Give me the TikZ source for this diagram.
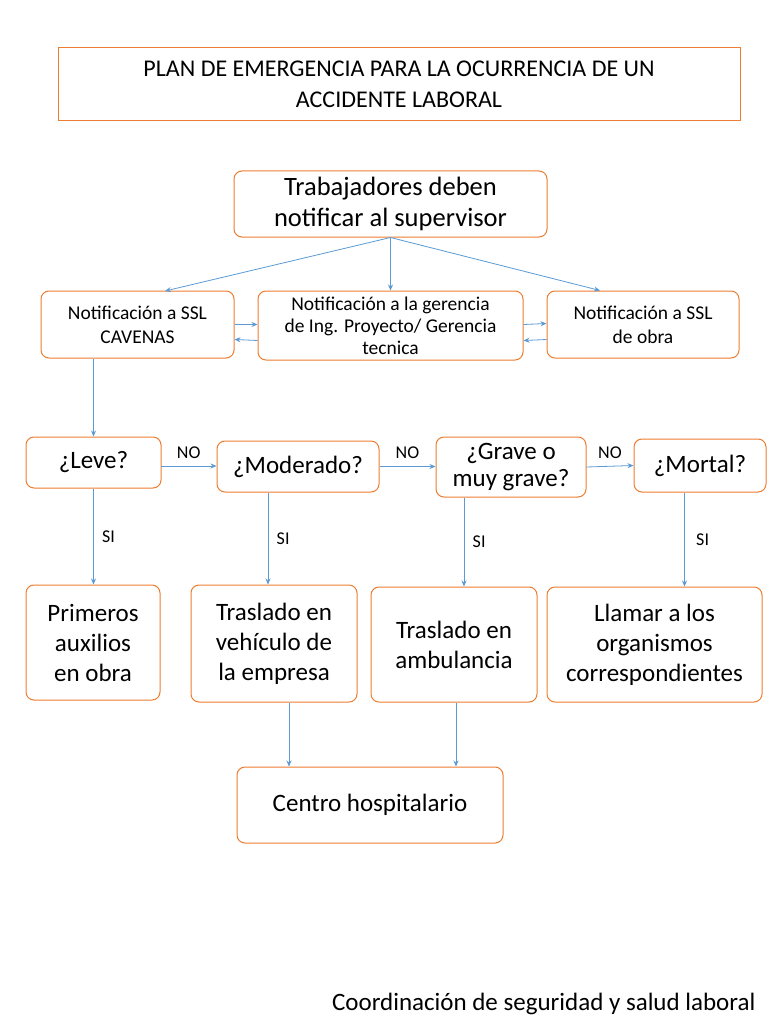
\documentclass[tikz,border=0pt]{standalone}
\usepackage{fontspec}
\setmainfont{Carlito}
\usetikzlibrary{arrows.meta}
\definecolor{ob}{HTML}{ED7D31}
\definecolor{ab}{HTML}{5B9BD5}
\begin{document}
\begin{tikzpicture}[x=1pt,y=-1pt,
 box/.style={draw=ob,line width=1pt,rounded corners=8pt,align=center,inner sep=0pt},
 arr/.style={draw=ab,line width=0.8pt,-{Stealth[length=6pt,width=5pt]}},
 lab/.style={font=\fontsize{18}{21}\selectfont}]
\useasboundingbox (0,0) rectangle (768,1024);
\fill[white] (0,0) rectangle (768,1024);
\node[draw=ob,line width=1pt,minimum width=682pt,minimum height=73pt,align=center,font=\fontsize{24}{31}\selectfont] (title) at (399,84.5) {PLAN DE EMERGENCIA PARA LA OCURRENCIA DE UN\\ACCIDENTE LABORAL};
\tikzset{f22/.style={font=\fontsize{26.5}{31}\selectfont},f16/.style={font=\fontsize{19.5}{24}\selectfont},f20/.style={font=\fontsize{25}{30}\selectfont}}
\node[box,minimum width=313pt,minimum height=66pt,f22] (top) at (390.5,204) {Trabajadores deben\\notificar al supervisor};
\node[box,minimum width=193pt,minimum height=67pt,f16] (cav) at (137.5,324.5) {Notificación a SSL\\CAVENAS};
\node[box,minimum width=265pt,minimum height=69pt,f16,font=\fontsize{19.5}{22}\selectfont] (ger) at (390.5,325.5) {Notificación a la gerencia\\de Ing. Proyecto/ Gerencia\\tecnica};
\node[box,minimum width=192pt,minimum height=67pt,f16] (obr) at (643,324.5) {Notificación a SSL\\de obra};
\node[box,minimum width=135pt,minimum height=51pt,f20] (leve) at (93.5,462.5) {¿Leve?};
\node[box,minimum width=162pt,minimum height=51pt,f20] (mod) at (298,466.5) {¿Moderado?};
\node[box,minimum width=150pt,minimum height=60pt,font=\fontsize{25}{27}\selectfont] (gra) at (511,467) {¿Grave o\\muy grave?};
\node[box,minimum width=132pt,minimum height=53pt,f20] (mor) at (700,465.5) {¿Mortal?};
\node[box,minimum width=134pt,minimum height=115pt,f20] (pri) at (93,642.5) {Primeros\\auxilios\\en obra};
\node[box,minimum width=166pt,minimum height=117pt,f20] (veh) at (274,643.5) {Traslado en\\vehículo de\\la empresa};
\node[box,minimum width=166pt,minimum height=115pt,f20] (amb) at (454,644.5) {Traslado en\\ambulancia};
\node[box,minimum width=215pt,minimum height=115pt,f20] (lla) at (654.5,644.5) {Llamar a los\\organismos\\correspondientes};
\node[box,minimum width=266pt,minimum height=76pt,f20] (cen) at (370,805) {Centro hospitalario};
\node[anchor=east,font=\fontsize{25}{28}\selectfont] (foot) at (759,1004) {Coordinación de seguridad y salud laboral};
% arrows
\coordinate (t1) at (165,291);
\draw[arr] (top.south) -- (t1);
\draw[arr] (top.south) -- (ger.north);
\draw[arr] (top.south) -- (obr.north -| 600,0);
\draw[arr] (cav.east) -- (ger.west |- cav.east);
\draw[arr] ([yshift=-15pt]ger.west) -- ([yshift=-15pt]cav.east);
\draw[arr] ([yshift=1pt]ger.east) -- ([yshift=1pt]obr.west);
\draw[arr] ([yshift=-15pt]obr.west) -- ([yshift=-15pt]ger.east);
\draw[arr] (cav.south -| leve.north) -- (leve.north);
\coordinate (n1) at (161,466);
\draw[arr] (n1) -- (n1 -| mod.west) node[lab,midway,above=4pt] {NO};
\draw[arr] (mod.east) -- (gra.west |- mod.east) node[lab,midway,above=4pt] {NO};
\draw[arr] (gra.east) -- (mor.west) node[lab,midway,above=4pt] {NO};
\draw[arr] (leve.south) -- (leve.south |- pri.north) node[lab,midway,right=5pt] {SI};
\draw[arr] (mod.south -| veh.north) ++(-6,0) coordinate (m1) -- (m1 |- veh.north) node[lab,midway,right=5pt] {SI};
\draw[arr] (gra.south -| amb.north) ++(10,0) coordinate (g1) -- (g1 |- amb.north) node[lab,midway,right=5pt] {SI};
\draw[arr] (mor.south -| lla.north) ++(30,0) coordinate (o1) -- (o1 |- lla.north) node[lab,midway,right=8pt] {SI};
\draw[arr] (veh.south) ++(15,0) coordinate (v1) -- (v1 |- cen.north);
\draw[arr] (amb.south) ++(2,0) coordinate (a1) -- (a1 |- cen.north);
\end{tikzpicture}
\end{document}
